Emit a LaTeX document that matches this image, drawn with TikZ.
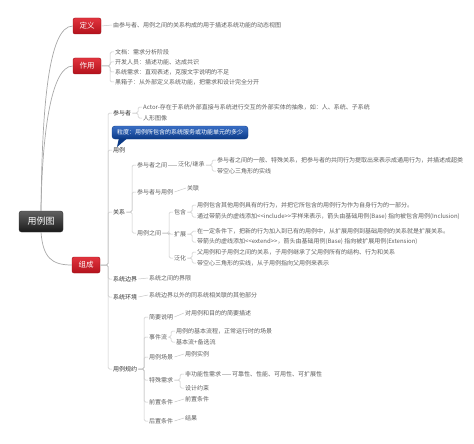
\documentclass[tikz,border=0pt]{standalone}
\usepackage{fontspec}
\setmainfont{Noto Sans CJK SC}
\usetikzlibrary{positioning, calc, shapes}

\definecolor{redtop}{HTML}{E2343E}
\definecolor{redbot}{HTML}{B3121C}
\definecolor{bluetop}{HTML}{3A6FC6}
\definecolor{bluebot}{HTML}{0B3A86}
\definecolor{leafgray}{HTML}{5E5E5E}
\definecolor{linegray}{HTML}{C6C6C6}

\tikzset{
  rootbox/.style={rectangle, rounded corners=2.5pt, top color=black!62, bottom color=black!90,
    draw=black!80, text=white, font=\fontsize{9}{10}\selectfont,
    minimum width=44pt, minimum height=21pt, inner sep=0pt},
  catbox/.style={rectangle, rounded corners=2pt, top color=redtop, bottom color=redbot,
    draw=redbot!85!black, text=white, font=\fontsize{7.5}{8}\selectfont,
    minimum width=28pt, minimum height=16pt, inner sep=0pt},
  notebox/.style={rectangle, rounded corners=3pt, top color=bluetop, bottom color=bluebot,
    draw=bluebot, text=white, font=\fontsize{6}{7}\selectfont,
    minimum width=136pt, minimum height=13pt, inner sep=0pt},
  topic/.style={anchor=west, inner sep=1pt, text=black!80, font=\fontsize{6}{7}\selectfont},
  leaf/.style={anchor=west, inner sep=1pt, text=leafgray, font=\fontsize{6}{7}\selectfont},
  link/.style={draw=linegray, line width=0.5pt, rounded corners=1.5pt},
  trunk/.style={draw=linegray!85!black, line width=0.7pt},
}

% parent -> bracket -> children
\newcommand{\branch}[2]{\foreach \c in {#2}{\draw[link] (#1.east) -| ($(\c.west)+(-4,0)$) -- (\c.west);}}

\begin{document}
\begin{tikzpicture}[x=1pt, y=-1pt]
  \useasboundingbox (0,0) rectangle (474,444);

  % main topics
  \node[rootbox] (root) at (41,221.5) {用例图};
  \node[catbox] (def)  at (87,26)  {定义};
  \node[catbox] (use)  at (87,66)  {作用};
  \node[catbox] (comp) at (86,265) {组成};

  \draw[trunk] (root.north) .. controls (42,110) and (48,26) .. (def.west);
  \draw[trunk] (root.north) .. controls (42,140) and (50,66) .. (use.west);
  \draw[trunk] (root.south) .. controls (43,258) and (52,265) .. (comp.west);

  % definition
  \node[leaf] (deftxt) at (112,25) {由参与者、用例之间的关系构成的用于描述系统功能的动态视图};
  \draw[link] (def.east) -- (deftxt.west);

  % purpose
  \node[leaf] (u1) at (114,52) {文档：需求分析阶段};
  \node[leaf] (u2) at (114,62) {开发人员：描述功能、达成共识};
  \node[leaf] (u3) at (114,72) {系统需求：直观表述，克服文字说明的不足};
  \node[leaf] (u4) at (114,82) {黑箱子：从外部定义系统功能，把需求和设计完全分开};
  \branch{use}{u1,u2,u3,u4}

  % composition
  \node[topic] (actor) at (112,113) {参与者};
  \node[topic] (uc)    at (112,150) {用例};
  \node[topic] (rel)   at (112,212) {关系};
  \node[topic] (bound) at (112,279) {系统边界};
  \node[topic] (env)   at (112,297) {系统环境};
  \node[topic] (spec)  at (112,369) {用例规约};
  \branch{comp}{actor,uc,rel,bound,env,spec}

  \node[leaf] (a1) at (142,107) {Actor-存在于系统外部直接与系统进行交互的外部实体的抽象，如：人、系统、子系统};
  \node[leaf] (a2) at (142,118) {人形图像};
  \branch{actor}{a1,a2}

  \node[notebox] (gran) at (180,132.5) {粒度：用例所包含的系统服务或功能单元的多少};
  \fill[bluebot] ($(gran.south west)+(7,-0.5)$) -- ($(gran.south west)+(15,-0.5)$)
    -- ($(uc.north west)+(5,1)$) -- cycle;

  % relations
  \node[leaf] (r1) at (136,165) {参与者之间};
  \node[leaf] (r2) at (136,192) {参与者与用例};
  \node[leaf] (r3) at (136,233) {用例之间};
  \branch{rel}{r1,r2,r3}

  \node[leaf] (r1a) at (177,165) {泛化/继承};
  \draw[link] (r1.east) -- (r1a.west);
  \node[leaf] (r1a1) at (216,160) {参与者之间的一般、特殊关系，把参与者的共同行为提取出来表示成通用行为，并描述成超类};
  \node[leaf] (r1a2) at (216,171) {带空心三角形的实线};
  \branch{r1a}{r1a1,r1a2}

  \node[leaf] (r2a) at (186,188) {关联};
  \draw[link] (r2.east) -- (r2a.west);

  \node[leaf] (inc) at (173,212) {包含};
  \node[leaf] (ext) at (173,234) {扩展};
  \node[leaf] (gen) at (173,258) {泛化};
  \branch{r3}{inc,ext,gen}

  \node[leaf] (inc1) at (196,205) {用例包含其他用例具有的行为，并把它所包含的用例行为作为自身行为的一部分。};
  \node[leaf] (inc2) at (196,217) {通过带箭头的虚线添加<{}<include>{}>字样来表示，箭头由基础用例(Base) 指向被包含用例(Inclusion)};
  \branch{inc}{inc1,inc2}
  \node[leaf] (ext1) at (196,231) {在一定条件下，把新的行为加入到已有的用例中，从扩展用例到基础用例的关系就是扩展关系。};
  \node[leaf] (ext2) at (196,242) {带箭头的虚线添加<{}<extend>{}>，箭头由基础用例(Base) 指向被扩展用例(Extension)};
  \branch{ext}{ext1,ext2}
  \node[leaf] (gen1) at (196,252) {父用例和子用例之间的关系，子用例继承了父用例所有的结构、行为和关系};
  \node[leaf] (gen2) at (196,263) {带空心三角形的实线，从子用例指向父用例来表示};
  \branch{gen}{gen1,gen2}

  % boundary, environment
  \node[leaf] (bt) at (148,278) {系统之间的界限};
  \draw[link] (bound.east) -- (bt.west);
  \node[leaf] (et) at (148,295) {系统边界以外的同系统相关联的其他部分};
  \draw[link] (env.east) -- (et.west);

  % specification
  \node[leaf] (s1) at (148,317) {简要说明};
  \node[leaf] (s2) at (148,337) {事件流};
  \node[leaf] (s3) at (148,357) {用例场景};
  \node[leaf] (s4) at (148,380) {特殊需求};
  \node[leaf] (s5) at (148,402) {前置条件};
  \node[leaf] (s6) at (148,421) {后置条件};
  \branch{spec}{s1,s2,s3,s4,s5,s6}

  \node[leaf] (s1a) at (184,313) {对用例和目的的简要描述};
  \draw[link] (s1.east) -- (s1a.west);
  \node[leaf] (s2a) at (175,331) {用例的基本流程，正常运行时的场景};
  \node[leaf] (s2b) at (175,342) {基本流+备选流};
  \branch{s2}{s2a,s2b}
  \node[leaf] (s3a) at (184,354) {用例实例};
  \draw[link] (s3.east) -- (s3a.west);
  \node[leaf] (s4a) at (184,374) {非功能性需求};
  \node[leaf] (s4b) at (184,388) {设计约束};
  \branch{s4}{s4a,s4b}
  \node[leaf] (s4a1) at (231,374) {可靠性、性能、可用性、可扩展性};
  \draw[link] (s4a.east) -- (s4a1.west);
  \node[leaf] (s5a) at (184,399) {前置条件};
  \draw[link] (s5.east) -- (s5a.west);
  \node[leaf] (s6a) at (184,418) {结果};
  \draw[link] (s6.east) -- (s6a.west);
\end{tikzpicture}
\end{document}
